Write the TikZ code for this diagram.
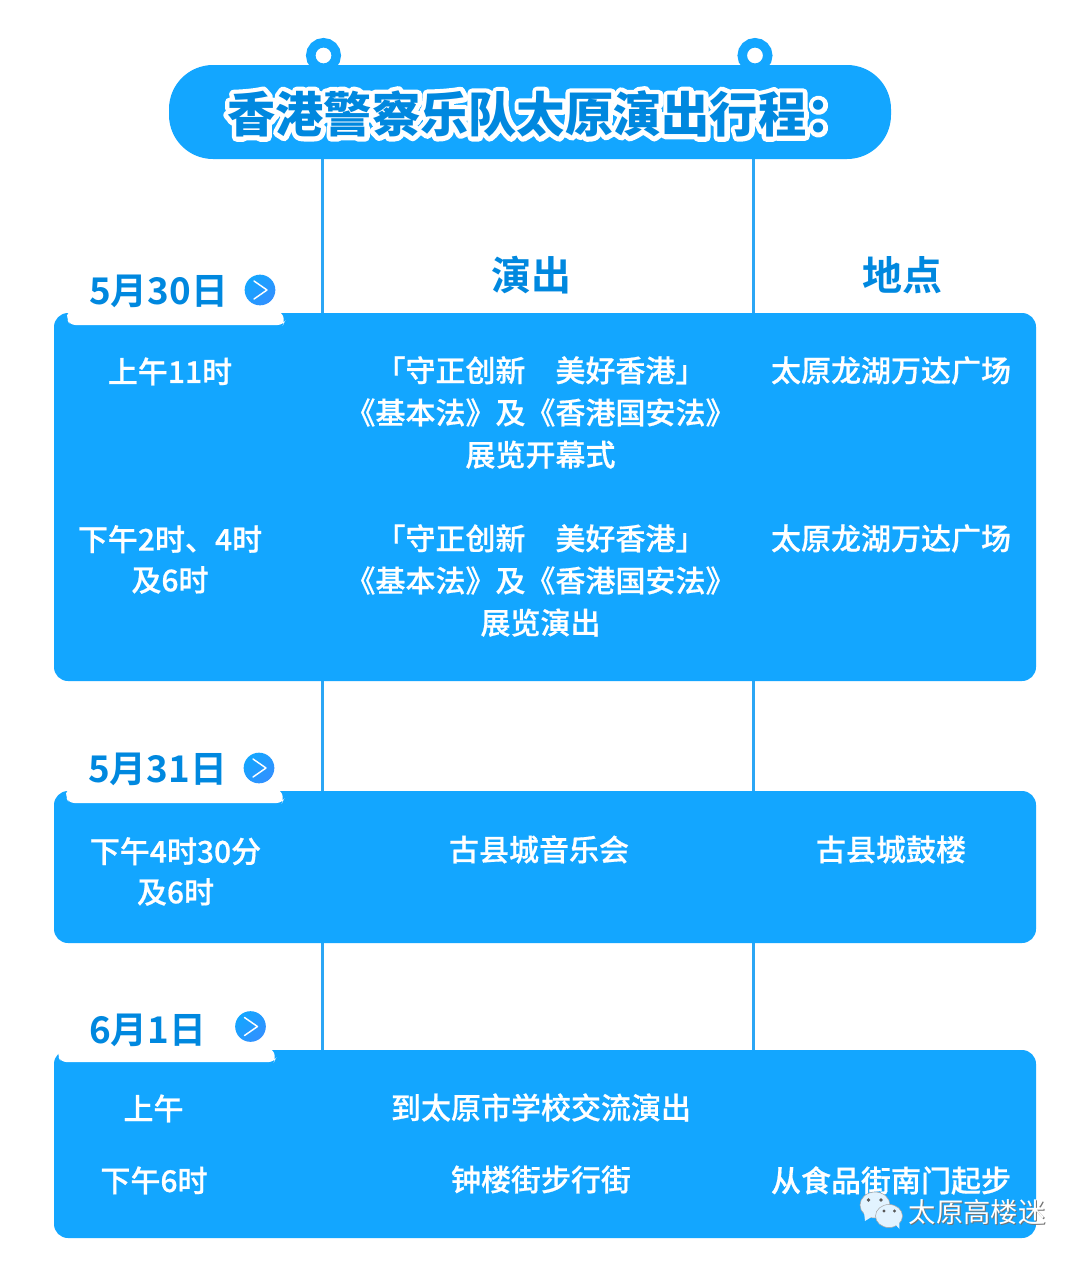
\documentclass[tikz,border=0pt]{standalone}
\usepackage{fontspec}
\setmainfont{Noto Sans CJK SC}[BoldFont={Noto Sans CJK SC Bold}]
\newfontfamily\cjkmed{Noto Sans CJK SC Medium}[FakeBold=0.6]
\newfontfamily\cjkreg{Noto Sans CJK SC}
\newfontfamily\cjkheavy{Noto Sans CJK SC Black}
\definecolor{panel}{HTML}{13A6FF}
\definecolor{deep}{HTML}{0088DF}
\definecolor{linec}{HTML}{2BA6F5}
\definecolor{bubble}{HTML}{E2F3FF}
\newcommand{\fs}[2]{\fontsize{#1}{#2}\selectfont}
\tikzset{
  panelbox/.style={fill=panel,rounded corners=10.5pt,draw=none},
  rail/.style={draw=linec,line width=2pt},
  body/.style={text=white,align=center,font=\cjkmed\fs{22.5}{31.6},inner sep=0pt,yshift=0.4pt},
  head/.style={text=deep,font=\bfseries\fs{30}{30},inner sep=0pt},
  datelabel/.style={text=deep,font=\bfseries\fs{27.6}{30},inner sep=0pt,anchor=west},
  tabshape/.style={fill=white,rounded corners=4pt,draw=none},
  chevline/.style={draw=white,line width=1.1pt,line cap=round,line join=round}
}
\newcommand{\datetab}[3]{% x, y(top of panel), width
  \fill[tabshape] (#1,#2-2) -- (#1+#3,#2-2) -- (#1+#3+4,#2+8) -- (#1+#3+2,#2+12) -- (#1+3,#2+12) -- (#1,#2+6) -- cycle;
}
\newcommand{\chevron}[3]{% x,y,name
  \node[circle,minimum size=23pt,inner sep=0pt,left color=panel,right color=blue!25!panel!85!white,shading angle=45] (#3) at (#1,#2) {};
  \draw[chevline] (#1-6,#2-9) -- (#1+7,#2) -- (#1-6,#2+9);
}
\begin{document}
\begin{tikzpicture}[x=0.75pt,y=-0.75pt]
\useasboundingbox (0,0) rectangle (1080,1261);
\fill[white] (0,0) rectangle (1080,1261);
% rings
\draw[panel,line width=7.1pt] (323.5,55.5) circle (12.75);
\draw[panel,line width=7.1pt] (755,55.5) circle (12.75);
% rails
\coordinate (a0) at (322.7,150); \coordinate (a1) at (322.7,1060);
\coordinate (b0) at (753.7,150); \coordinate (b1) at (753.7,1060);
\draw[rail] (a0) -- (a1);
\draw[rail] (b0) -- (b1);
% title bar
\node[fill=panel,rounded corners=33pt,minimum width=541.5pt,minimum height=70.5pt,inner sep=0pt] (title) at (530,112) {};
\node[inner sep=0pt,text=white,font=\cjkheavy\fs{36.2}{36}] (titlea) at (541,114)
  {\special{pdf:code 1 1 1 RG 7 w 1 J 1 j 2 Tr}香港警察乐队太原演出行程：\special{pdf:code 0 Tr}};
\node[inner sep=0pt,text=deep,font=\cjkheavy\fs{36.2}{36}] (titleb) at (541,114) {香港警察乐队太原演出行程：};
% headings
\node[head] (h1) at (531,275) {演出};
\node[head] (h2) at (902,275) {地点};
% panels
\fill[panelbox] (54,313) rectangle (1036,681);
\fill[panelbox] (54,791) rectangle (1036,943);
\fill[panelbox] (54,1050) rectangle (1036,1238);
% date tabs
\datetab{67}{313}{214}
\datetab{66}{791}{214}
\datetab{58}{1050}{214}
\node[datelabel] (d1) at (89,291) {5月30日};
\node[datelabel] (d2) at (88,769) {5月31日};
\node[datelabel] (d3) at (89,1030) {6月1日};
\chevron{260}{290}{c1}
\chevron{259}{768}{c2}
\chevron{250.5}{1026.5}{c3}
% block 1
\node[body] (n1) at (170,372) {上午11时};
\node[body] (n2) at (540.5,413) {「守正创新\hspace{22.5pt}美好香港」\\《基本法》及《香港国安法》\\展览开幕式};
\node[body] (n3) at (891,371) {太原龙湖万达广场};
\node[body,font=\cjkmed\fs{22.5}{30.5}] (n4) at (170,560) {下午2时、4时\\及6时};
\node[body] (n5) at (540.5,581) {「守正创新\hspace{22.5pt}美好香港」\\《基本法》及《香港国安法》\\展览演出};
\node[body] (n6) at (891,539) {太原龙湖万达广场};
% block 2
\node[body,font=\cjkmed\fs{22.5}{30.5}] (n7) at (175.5,872) {下午4时30分\\及6时};
\node[body] (n8) at (539,850) {古县城音乐会};
\node[body] (n9) at (891,850) {古县城鼓楼};
% block 3
\node[body] (n10) at (153.5,1109) {上午};
\node[body] (n11) at (541,1108) {到太原市学校交流演出};
\node[body] (n12) at (154,1181) {下午6时};
\node[body] (n13) at (541,1180) {钟楼街步行街};
\node[body] (n14) at (891,1181) {从食品街南门起步};
% watermark
\fill[bubble,draw=black!35,line width=0.4pt] (875,1205) ellipse (15 and 13);
\fill[bubble] (864,1212) -- (865,1221) -- (873,1216) -- cycle;
\fill[black!65] (868.5,1200) circle (1.8);
\fill[black!65] (881,1200) circle (1.8);
\fill[bubble,draw=black!35,line width=0.4pt] (889,1216) ellipse (13.5 and 11.5);
\fill[bubble] (895,1224) -- (899.5,1229) -- (899,1219) -- cycle;
\fill[black!65] (884,1211) circle (1.6);
\fill[black!65] (894.5,1211) circle (1.6);
\node[inner sep=0pt,text=black!55,font=\cjkreg\fs{20.5}{24}] (wms) at (978,1213.5) {太原高楼迷};
\node[inner sep=0pt,text=white,font=\cjkreg\fs{20.5}{24}] (wm) at (977,1212.5) {太原高楼迷};
\end{tikzpicture}
\end{document}
